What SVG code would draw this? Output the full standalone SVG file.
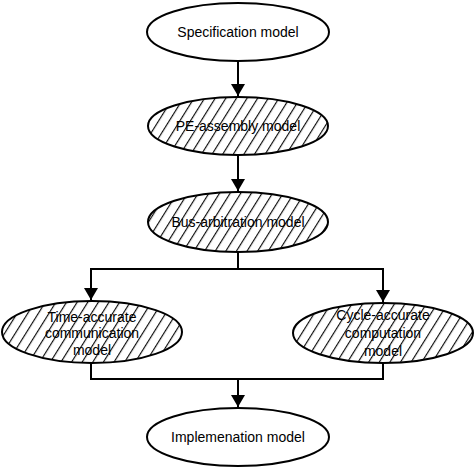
<svg xmlns="http://www.w3.org/2000/svg" width="474" height="470" viewBox="0 0 474 470">
<style>
.node{stroke:#000;stroke-width:2}
.plain{fill:#fff}
.hatch{fill:url(#hatch)}
.lbl{font-family:"Liberation Sans",Arial,sans-serif;font-size:14px;fill:#000;text-anchor:middle}
.conn{fill:none;stroke:#000;stroke-width:2}
</style>
<defs>
<pattern id="hatch" patternUnits="userSpaceOnUse" width="9" height="9" patternTransform="rotate(32)">
<rect width="9" height="9" fill="#fff"/>
<line x1="0.6" y1="0" x2="0.6" y2="9" stroke="#000" stroke-width="1.1"/>
</pattern>
<marker id="arr" viewBox="0 0 12 14" refX="12" refY="7" markerWidth="12" markerHeight="14" markerUnits="userSpaceOnUse" orient="auto">
<path d="M0,0 L12,7 L0,14 Z" fill="#000"/>
</marker>
</defs>
<rect width="474" height="470" fill="#fff"/>
<g id="connectors">
<path class="conn" d="M238,61 V96" marker-end="url(#arr)"/>
<path class="conn" d="M238,155 V191" marker-end="url(#arr)"/>
<path class="conn" d="M238,253 V269"/>
<path class="conn" d="M91,269 H383"/>
<path class="conn" d="M91,268 V300" marker-end="url(#arr)"/>
<path class="conn" d="M383,268 V302" marker-end="url(#arr)"/>
<path class="conn" d="M91,363 V379 H383 V363"/>
<path class="conn" d="M238,379 V407" marker-end="url(#arr)"/>
</g>
<g id="spec">
<ellipse class="node plain" cx="238" cy="32" rx="91" ry="29"/>
<text class="lbl" x="238" y="37">Specification model</text>
</g>
<g id="pe">
<ellipse class="node hatch" cx="238" cy="126" rx="90" ry="29"/>
<text class="lbl" x="238" y="131">PE-assembly model</text>
</g>
<g id="bus">
<ellipse class="node hatch" cx="238" cy="222" rx="90" ry="30"/>
<text class="lbl" x="238" y="227">Bus-arbitration model</text>
</g>
<g id="time">
<ellipse class="node hatch" cx="92" cy="332" rx="90" ry="31"/>
<text class="lbl" x="92" y="322">Time-accurate</text>
<text class="lbl" x="92" y="338">communication</text>
<text class="lbl" x="92" y="355">model</text>
</g>
<g id="cycle">
<ellipse class="node hatch" cx="383" cy="333" rx="90" ry="30"/>
<text class="lbl" x="383" y="320">Cycle-accurate</text>
<text class="lbl" x="383" y="338">computation</text>
<text class="lbl" x="383" y="356">model</text>
</g>
<g id="impl">
<ellipse class="node plain" cx="238" cy="437" rx="91" ry="29"/>
<text class="lbl" x="238" y="442">Implemenation model</text>
</g>
</svg>
